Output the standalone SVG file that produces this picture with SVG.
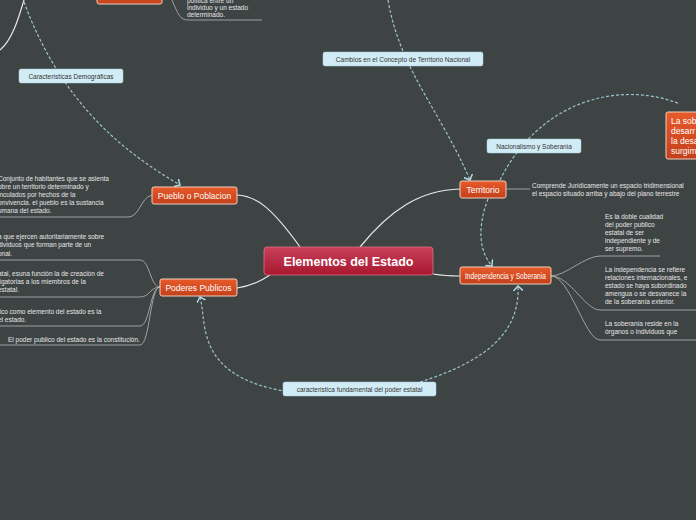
<svg xmlns="http://www.w3.org/2000/svg" width="696" height="520" viewBox="0 0 696 520">
<defs>
<linearGradient id="gc" x1="0" y1="0" x2="0" y2="1"><stop offset="0" stop-color="#c8405a"/><stop offset="1" stop-color="#a8182f"/></linearGradient>
<linearGradient id="go" x1="0" y1="0" x2="0" y2="1"><stop offset="0" stop-color="#e85a2a"/><stop offset="1" stop-color="#c2401a"/></linearGradient>
<marker id="ar" markerWidth="8" markerHeight="8" refX="4" refY="4" orient="auto"><path d="M0,0 L4,4 L0,8" fill="none" stroke="#b8dce8" stroke-width="1.2"/></marker>
</defs>
<style>
.n{fill:url(#go);stroke:#f0d0c0;stroke-width:1}
.nt{font-family:"Liberation Sans",sans-serif;font-size:8.5px;fill:#fff}
.lb{fill:#d2ecf6;stroke:#a8d0e0;stroke-width:0.5}
.lt{font-family:"Liberation Sans",sans-serif;font-size:6.5px;fill:#333}
.tx{font-family:"Liberation Sans",sans-serif;font-size:6.5px;fill:#e6e6e6}
.sl{fill:none;stroke:#e8e8e8;stroke-width:1.2}
.ul{fill:none;stroke:#aaa;stroke-width:0.9}
.dl{fill:none;stroke:#9cc4d0;stroke-width:1.2;stroke-dasharray:3,2}
</style>
<rect width="696" height="520" fill="#3e4444"/>
<g id="connectors">
<path class="sl" d="M360,247 C390,210 420,190 460,189"/>
<path class="sl" d="M433,274 C445,276 450,276 460,276"/>
<path class="sl" d="M300,247 C270,205 255,196 237,195"/>
<path class="sl" d="M270,275 C255,285 245,287 237,288"/>
<path class="sl" d="M0,50 C12,40 18,20 24,0"/>
<path class="ul" d="M506,189 L530,189"/>
<path class="ul" d="M152,195 C140,198 140,217 128,217 L0,217"/>
<path class="ul" d="M160,287 C150,287 150,260 140,260 L0,260"/>
<path class="ul" d="M160,287 C150,287 150,297 140,297 L0,297"/>
<path class="ul" d="M160,287 C150,287 150,326 140,326 L0,326"/>
<path class="ul" d="M160,287 C150,287 150,345 140,345 L0,345"/>
<path class="ul" d="M551,276 C565,276 585,256 600,256 L660,256"/>
<path class="ul" d="M551,276 C570,276 585,310 600,310 L696,310"/>
<path class="ul" d="M551,276 C570,276 585,340 600,340 L696,340"/>
<path class="ul" d="M172,0 C178,14 180,20 188,20 L262,20"/>
<path class="dl" d="M24,2 C60,100 120,150 180,185" marker-end="url(#ar)"/>
<path class="dl" d="M388,0 C400,70 440,110 470,180" marker-end="url(#ar)"/>
<path class="dl" d="M500,180 C540,100 620,80 680,104"/>
<path class="dl" d="M488,199 C478,225 478,250 492,266" marker-end="url(#ar)"/>
<path class="dl" d="M436,389 C180,420 210,330 200,297" marker-end="url(#ar)"/>
<path class="dl" d="M420,382 C490,360 520,330 518,286" marker-end="url(#ar)"/>
</g>
<g id="central"><rect x="264" y="247" width="169" height="28" rx="3" fill="url(#gc)" stroke="#e07080" stroke-width="0.8"/><text x="348.5" y="266" text-anchor="middle" font-family="Liberation Sans,sans-serif" font-weight="bold" font-size="12.5" fill="#fff">Elementos del Estado</text></g>
<g id="territorio"><rect class="n" x="460" y="181" width="46" height="17" rx="2"/><text class="nt" x="483" y="192.5" text-anchor="middle">Territorio</text></g>
<g id="independencia"><rect class="n" x="460" y="267" width="91" height="17" rx="2"/><text class="nt" x="465" y="278.5" textLength="81" lengthAdjust="spacingAndGlyphs">Independencia y Soberania</text></g>
<g id="pueblo"><rect class="n" x="152" y="187" width="85" height="17" rx="2"/><text class="nt" x="194.5" y="198.5" text-anchor="middle">Pueblo o Poblacion</text></g>
<g id="poderes"><rect class="n" x="160" y="279" width="77" height="17" rx="2"/><text class="nt" x="198.5" y="290.5" text-anchor="middle">Poderes Publicos</text></g>
<g id="top-node"><rect class="n" x="97" y="-6" width="65" height="10" rx="2"/></g>
<g id="soberania-node"><rect class="n" x="666" y="112" width="40" height="47" rx="2"/><text class="nt" x="671" y="124">La sob</text><text class="nt" x="671" y="134">desarr</text><text class="nt" x="671" y="144">la desa</text><text class="nt" x="671" y="154">surgim</text></g>
<g id="labels">
<rect class="lb" x="19" y="69" width="104" height="14" rx="2"/><text class="lt" x="71" y="78.5" text-anchor="middle">Características Demográficas</text>
<rect class="lb" x="323" y="52" width="160" height="14" rx="2"/><text class="lt" x="403" y="61.5" text-anchor="middle">Cambios en el Concepto de Territorio Nacional</text>
<rect class="lb" x="487" y="139" width="94" height="14" rx="2"/><text class="lt" x="534" y="148.5" text-anchor="middle">Nacionalismo y Soberania</text>
<rect class="lb" x="283" y="382" width="153" height="14" rx="2"/><text class="lt" x="359.5" y="391.5" text-anchor="middle">caracteristica fundamental del poder estatal</text>
</g>
<g id="texts">
<text class="tx" x="187" y="3">política entre un</text><text class="tx" x="187" y="10">individuo y un estado</text><text class="tx" x="187" y="17">determinado.</text>
<text class="tx" x="532" y="188">Comprende Jurídicamente un espacio tridimensional</text><text class="tx" x="532" y="196">el espacio situado arriba y abajo del plano terrestre</text>
<text class="tx" x="-2" y="181">Conjunto de habitantes que se asienta</text><text class="tx" x="-2" y="189">obre un territorio determinado y</text><text class="tx" x="-2" y="197">inculados por hechos de la</text><text class="tx" x="-2" y="205">onvivencia. el pueblo es la sustancia</text><text class="tx" x="-2" y="213">umana del estado.</text>
<text class="tx" x="-2" y="239">a que ejercen autoritariamente sobre</text><text class="tx" x="-2" y="247">dividuos que forman parte de un</text><text class="tx" x="-2" y="256">onal.</text>
<text class="tx" x="-2" y="276">atal, esuna función la de creación de</text><text class="tx" x="-2" y="284">ligatorias a los miembros de la</text><text class="tx" x="-2" y="292">estatal.</text>
<text class="tx" x="-2" y="314">lico como elemento del estado es la</text><text class="tx" x="-2" y="322">el estado.</text>
<text class="tx" x="8" y="342" font-size="5.5">El poder publico del estado es la constitución.</text>
<text class="tx" x="605" y="219">Es la doble cualidad</text><text class="tx" x="605" y="227">del poder publico</text><text class="tx" x="605" y="235">estatal de ser</text><text class="tx" x="605" y="243">independiente y de</text><text class="tx" x="605" y="251">ser supremo.</text>
<text class="tx" x="605" y="272">La  independencia se refiere</text><text class="tx" x="605" y="280">relaciones internacionales, e</text><text class="tx" x="605" y="288">estado se haya subordinado</text><text class="tx" x="605" y="296">amengua o se desvanece la</text><text class="tx" x="605" y="304">de la soberanía exterior.</text>
<text class="tx" x="605" y="326">La soberanía reside en la</text><text class="tx" x="605" y="334">órganos o individuos que</text>
</g>
</svg>
